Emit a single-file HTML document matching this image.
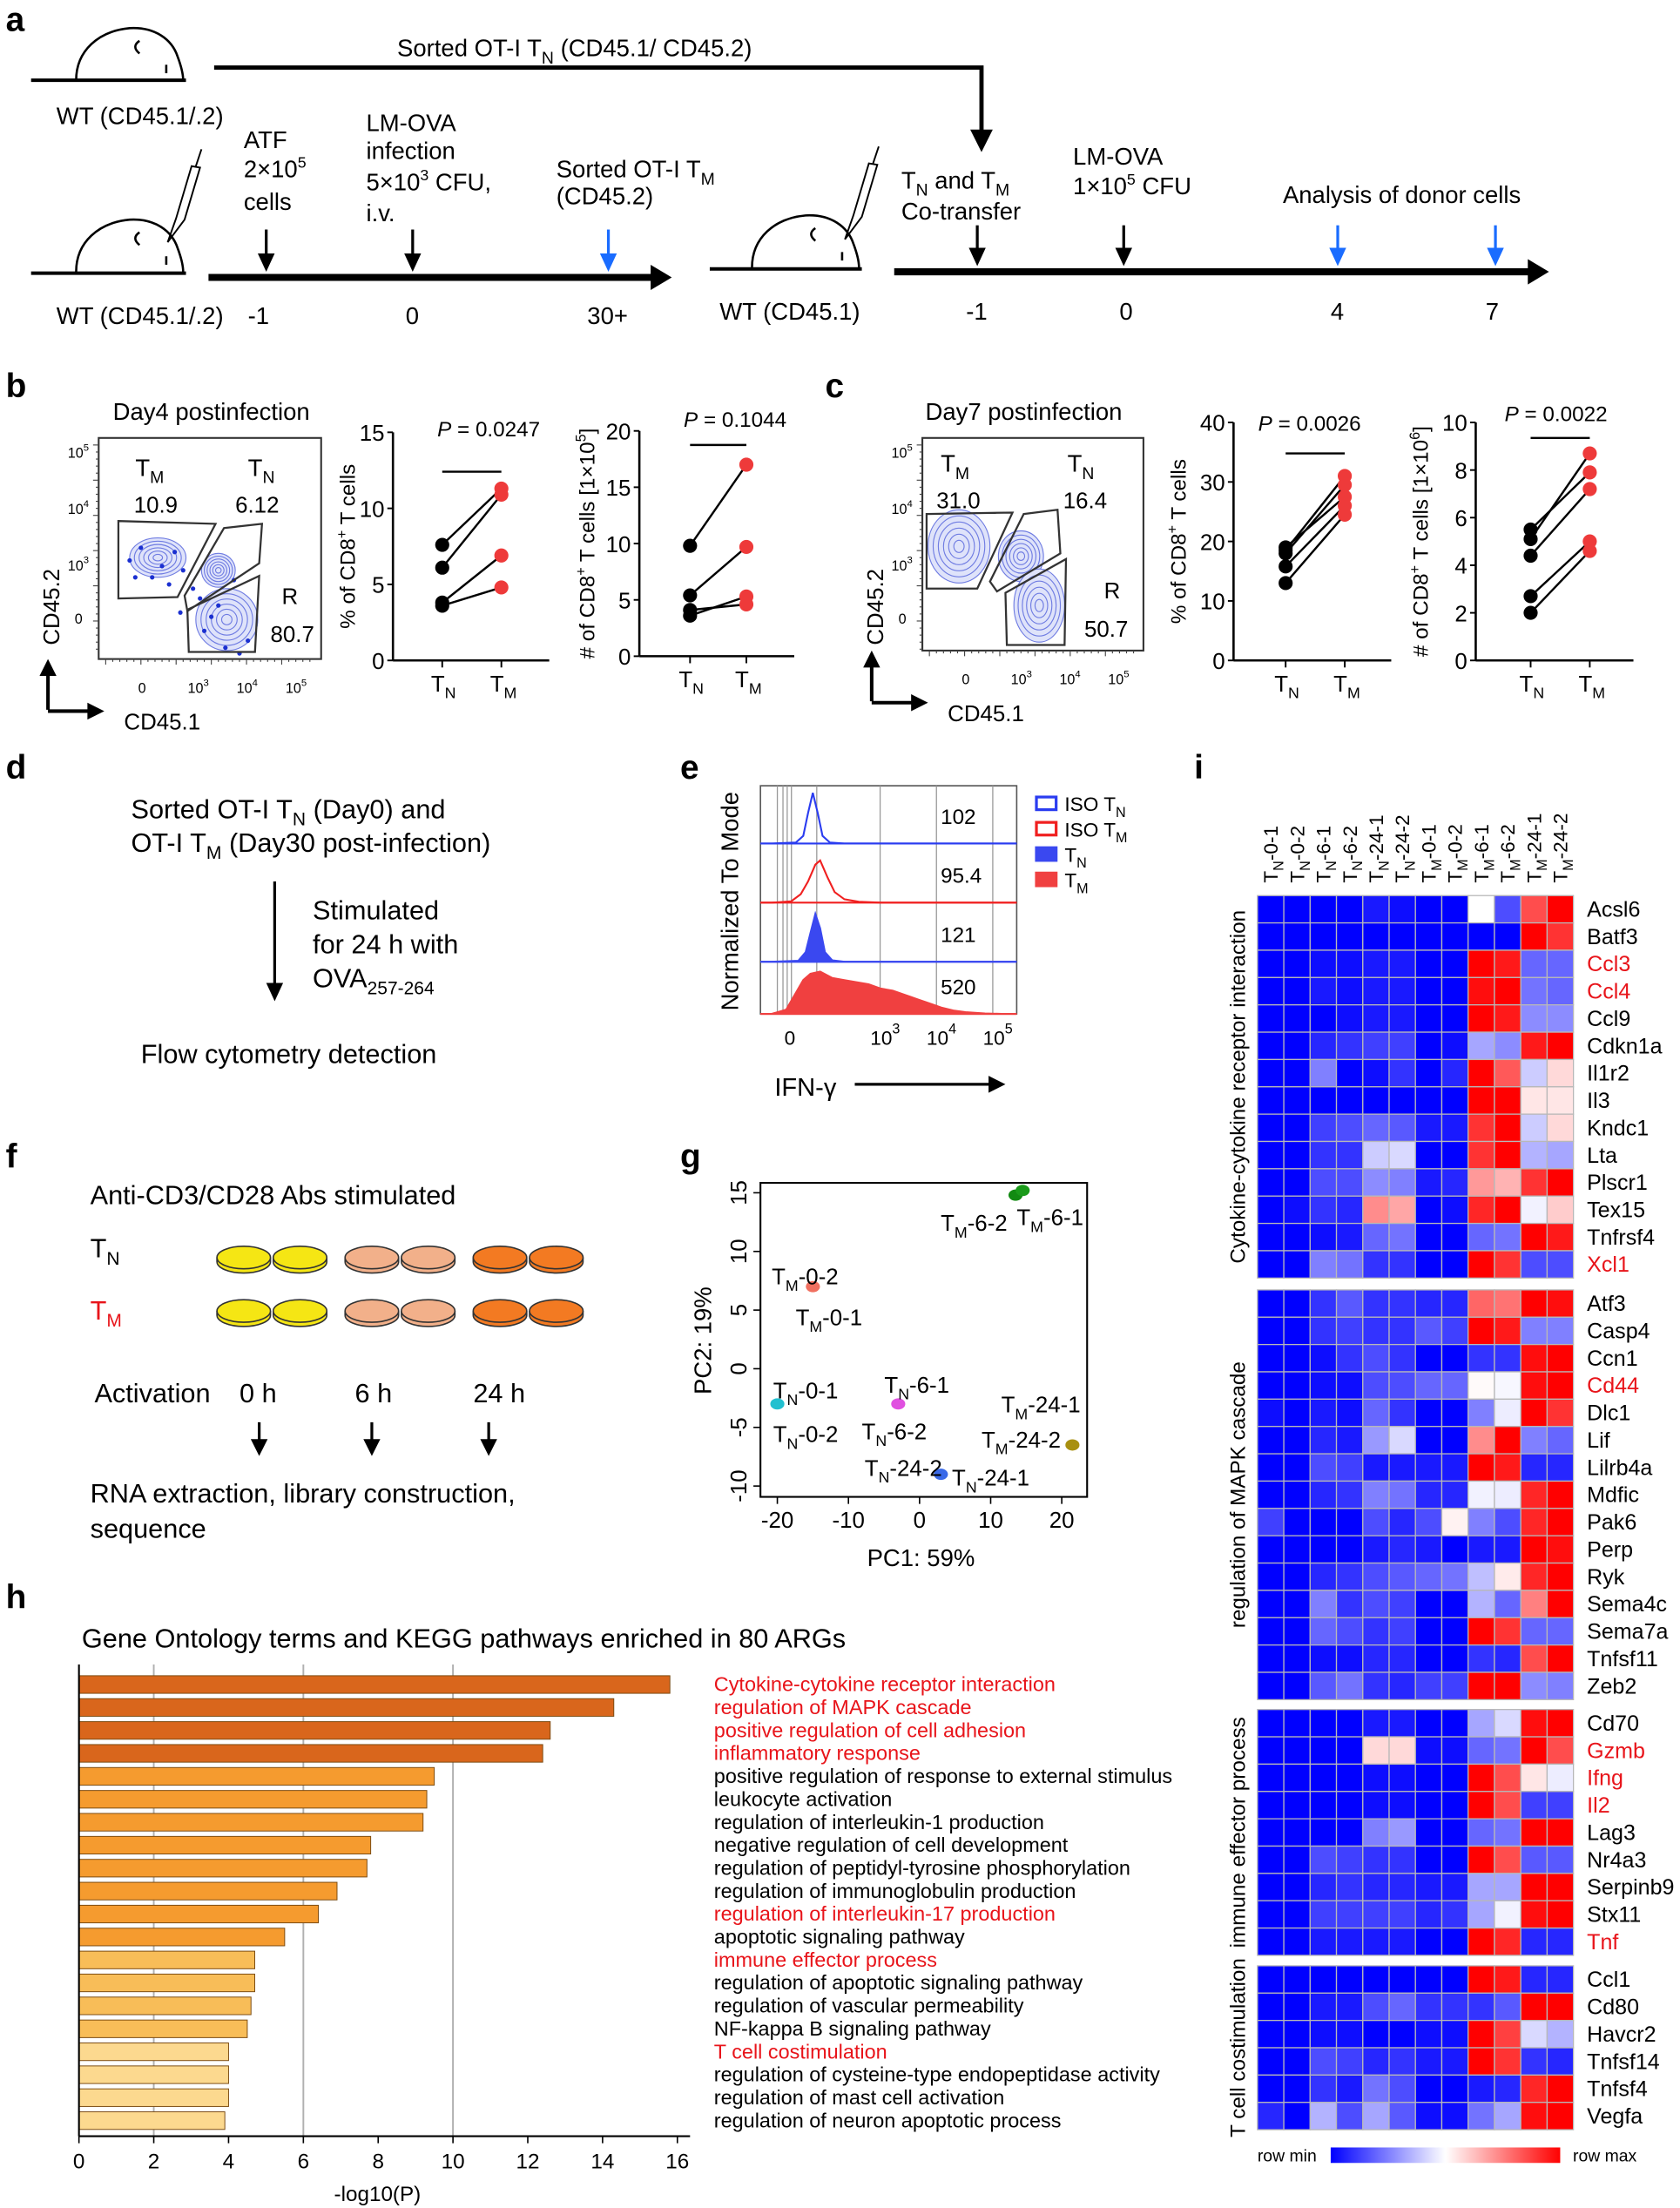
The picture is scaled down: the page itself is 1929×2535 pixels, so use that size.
<!DOCTYPE html>
<html><head><meta charset="utf-8">
<style>
html,body{margin:0;padding:0;background:#fff;}
svg{display:block;font-family:"Liberation Sans",Arial,sans-serif;}
</style></head>
<body>
<svg id="fig" xmlns="http://www.w3.org/2000/svg" width="1929" height="2535" viewBox="0 0 1193 1568">
<defs></defs>

<!-- PANEL A -->
<g font-size="17">
<text x="4" y="22" font-size="24" font-weight="bold">a</text>
<g fill="none" stroke="#000" stroke-width="1.6">
<path d="M54,57 C54,36 70,22 92,20 C110,19 122,28 126,40 C129,48 130,53 130,57"/><line x1="22" y1="57" x2="132" y2="57" stroke-width="2.5"/>
<path d="M99,29 q-6,4 0,9"/><path d="M118,46 v6"/></g>
<text x="40" y="88">WT (CD45.1/.2)</text>
<path d="M152,48 H697 V100" fill="none" stroke="#000" stroke-width="3"/>
<path d="M689,92 L705,92 L697,108 z" fill="#000"/>
<text x="282" y="40">Sorted OT-I T<tspan font-size="12" dy="5">N</tspan><tspan dy="-5"> (CD45.1/ CD45.2)</tspan></text>

<g fill="none" stroke="#000" stroke-width="1.6">
<path d="M54,193 C54,172 70,158 92,156 C110,155 122,164 126,176 C129,184 130,189 130,193"/><line x1="22" y1="194" x2="132" y2="194" stroke-width="2.5"/>
<path d="M99,165 q-6,4 0,9"/><path d="M118,182 v6"/>
<path d="M119,172 L125,155 L136,118 L142,119 L131,156 z" stroke-width="1.2"/><line x1="139" y1="118" x2="143" y2="106" stroke-width="1.2"/></g>
<text x="40" y="230">WT (CD45.1/.2)</text>
<line x1="148" y1="197" x2="465" y2="197" stroke="#000" stroke-width="5"/>
<path d="M462,188 L477,197 L462,206 z" fill="#000"/>
<line x1="189" y1="163" x2="189" y2="182" stroke="#000" stroke-width="2"/><path d="M183,180 L195,180 L189,193 z" fill="#000"/>
<line x1="293" y1="163" x2="293" y2="182" stroke="#000" stroke-width="2"/><path d="M287,180 L299,180 L293,193 z" fill="#000"/>
<line x1="432" y1="163" x2="432" y2="182" stroke="#1a6cff" stroke-width="2"/><path d="M426,180 L438,180 L432,193 z" fill="#1a6cff"/>
<text x="176" y="230">-1</text>
<text x="288" y="230">0</text><text x="417" y="230">30+</text>
<text x="173" y="105">ATF</text>
<text x="173" y="126">2×10<tspan font-size="11" dy="-7">5</tspan></text>
<text x="173" y="149">cells</text>
<text x="260" y="93">LM-OVA</text><text x="260" y="113">infection</text>
<text x="260" y="135">5×10<tspan font-size="11" dy="-7">3</tspan><tspan dy="7"> CFU,</tspan></text>
<text x="260" y="157">i.v.</text>
<text x="395" y="126">Sorted OT-I T<tspan font-size="12" dy="5">M</tspan></text>
<text x="395" y="145">(CD45.2)</text>

<g fill="none" stroke="#000" stroke-width="1.6">
<path d="M534,190 C534,169 550,155 572,153 C590,152 602,161 606,173 C609,181 610,186 610,190"/><line x1="504" y1="191" x2="612" y2="191" stroke-width="2.5"/>
<path d="M579,162 q-6,4 0,9"/><path d="M598,179 v6"/>
<path d="M600,170 L606,153 L617,116 L623,117 L612,154 z" stroke-width="1.2"/><line x1="620" y1="116" x2="624" y2="104" stroke-width="1.2"/></g>
<text x="511" y="227">WT (CD45.1)</text>
<line x1="635" y1="193" x2="1088" y2="193" stroke="#000" stroke-width="5"/>
<path d="M1085,184 L1100,193 L1085,202 z" fill="#000"/>
<line x1="694" y1="160" x2="694" y2="178" stroke="#000" stroke-width="2"/><path d="M688,176 L700,176 L694,189 z" fill="#000"/>
<line x1="798" y1="160" x2="798" y2="178" stroke="#000" stroke-width="2"/><path d="M792,176 L804,176 L798,189 z" fill="#000"/>
<line x1="950" y1="160" x2="950" y2="178" stroke="#1a6cff" stroke-width="2"/><path d="M944,176 L956,176 L950,189 z" fill="#1a6cff"/>
<line x1="1062" y1="160" x2="1062" y2="178" stroke="#1a6cff" stroke-width="2"/><path d="M1056,176 L1068,176 L1062,189 z" fill="#1a6cff"/>
<text x="686" y="227">-1</text><text x="795" y="227">0</text><text x="945" y="227">4</text><text x="1055" y="227">7</text>
<text x="640" y="134">T<tspan font-size="12" dy="5">N</tspan><tspan dy="-5"> and T</tspan><tspan font-size="12" dy="5">M</tspan></text>
<text x="640" y="156">Co-transfer</text>
<text x="762" y="117">LM-OVA</text>
<text x="762" y="138">1×10<tspan font-size="11" dy="-7">5</tspan><tspan dy="7"> CFU</tspan></text>
<text x="911" y="144">Analysis of donor cells</text>
</g>

<g font-size="17">
<text x="4" y="282" font-size="24" font-weight="bold">b</text>
<text x="150" y="298" text-anchor="middle">Day4 postinfection</text>
<text x="586" y="282" font-size="24" font-weight="bold">c</text>
<text x="727" y="298" text-anchor="middle">Day7 postinfection</text>

<text x="4" y="553" font-size="24" font-weight="bold">d</text>
<g font-size="19">
<text x="93" y="581">Sorted OT-I T<tspan font-size="13" dy="5">N</tspan><tspan dy="-5"> (Day0) and</tspan></text>
<text x="93" y="605">OT-I T<tspan font-size="13" dy="5">M</tspan><tspan dy="-5"> (Day30 post-infection)</tspan></text>
<line x1="195" y1="626" x2="195" y2="700" stroke="#000" stroke-width="2"/><path d="M189,698 L201,698 L195,711 z" fill="#000"/>
<text x="222" y="653">Stimulated</text>
<text x="222" y="677">for 24 h with</text>
<text x="222" y="701">OVA<tspan font-size="13" dy="5">257-264</tspan></text>
<text x="100" y="755">Flow cytometry detection</text>
</g>

<text x="483" y="553" font-size="24" font-weight="bold">e</text>
<text x="4" y="829" font-size="24" font-weight="bold">f</text>
<g font-size="19">
<text x="64" y="855">Anti-CD3/CD28 Abs stimulated</text>
<text x="64" y="893">T<tspan font-size="13" dy="5">N</tspan></text>
<text x="64" y="937" fill="#e8141a">T<tspan font-size="13" dy="5">M</tspan></text>
<text x="67" y="996">Activation</text><text x="170" y="996">0 h</text><text x="252" y="996">6 h</text><text x="336" y="996">24 h</text>
<line x1="184" y1="1010" x2="184" y2="1024" stroke="#000" stroke-width="2"/><path d="M178,1022 L190,1022 L184,1034 z" fill="#000"/>
<line x1="264" y1="1010" x2="264" y2="1024" stroke="#000" stroke-width="2"/><path d="M258,1022 L270,1022 L264,1034 z" fill="#000"/>
<line x1="347" y1="1010" x2="347" y2="1024" stroke="#000" stroke-width="2"/><path d="M341,1022 L353,1022 L347,1034 z" fill="#000"/>
<text x="64" y="1067">RNA extraction, library construction,</text>
<text x="64" y="1092">sequence</text>
</g>
<g id="dishes"></g>

<text x="483" y="829" font-size="24" font-weight="bold">g</text>
<text x="4" y="1142" font-size="24" font-weight="bold">h</text>
<text x="58" y="1170" font-size="19">Gene Ontology terms and KEGG pathways enriched in 80 ARGs</text>
<text x="848" y="553" font-size="24" font-weight="bold">i</text>
</g>

<g id="gb"></g>
<g id="gc"></g>
<g id="ge"></g>
<g id="gg"></g>
<g id="gh"></g>
<g id="gi"></g>
</svg>

<script>
// panel b
const bPctTN = [7.6, 6.1, 3.8, 3.6];
const bPctTM = [11.3, 10.9, 6.9, 4.8];
const bNumTN = [9.8, 5.4, 4.1, 3.6];
const bNumTM = [17.0, 9.7, 4.6, 5.3];
const bPctTicks = [0, 5, 10, 15];
const bNumTicks = [0, 5, 10, 15, 20];
// panel c
const cPctTN = [19.0, 18.5, 18.0, 15.8, 13.0];
const cPctTM = [27.5, 31.0, 29.5, 26.0, 24.5];
const cNumTN = [5.5, 5.1, 4.4, 2.7, 2.0];
const cNumTM = [7.9, 8.7, 7.2, 5.0, 4.6];
const cPctTicks = [0, 10, 20, 30, 40];
const cNumTicks = [0, 2, 4, 6, 8, 10];
// panel e
const histChannels1 = [0, 10, 13, 15, 17, 19, 21, 24, 30, 100];
const histIsoTN = [0, 0.02, 0.15, 0.6, 1, 0.6, 0.15, 0.02, 0, 0];
const histChannels2 = [0, 8, 12, 15, 18, 20, 23, 26, 30, 36, 45, 100];
const histIsoTM = [0, 0.03, 0.2, 0.5, 0.9, 1, 0.6, 0.25, 0.08, 0.02, 0, 0];
const histChannels3 = [0, 11, 14, 16, 18, 20, 22, 25, 30, 100];
const histTN = [0, 0.02, 0.2, 0.6, 1, 0.7, 0.2, 0.03, 0, 0];
const histChannels4 = [0, 6, 10, 13, 16, 20, 25, 30, 35, 40, 45, 50, 55, 60, 65, 70, 75, 80, 88, 95, 100];
const histTM = [0, 0.1, 0.5, 0.8, 0.95, 1, 0.85, 0.8, 0.75, 0.7, 0.6, 0.55, 0.45, 0.35, 0.25, 0.15, 0.08, 0.04, 0.01, 0, 0];
const histMFI = ["102", "95.4", "121", "520"];
// panel g
const pcaPC1 = [13.5, 14.5, -15, -20, -3, 21.5, 3];
const pcaPC2 = [14.8, 15.2, 7, -3, -3, -6.5, -9];
const pcaColors = ["#128a12", "#1a9a1a", "#f07060", "#22c0d0", "#e050e0", "#a89010", "#3a6ae8"];
const pcaXTicks = [-20, -10, 0, 10, 20];
const pcaYTicks = [15, 10, 5, 0, -5, -10];
// panel h
const goTerms = ["Cytokine-cytokine receptor interaction","regulation of MAPK cascade","positive regulation of cell adhesion","inflammatory response","positive regulation of response to external stimulus","leukocyte activation","regulation of interleukin-1 production","negative regulation of cell development","regulation of peptidyl-tyrosine phosphorylation","regulation of immunoglobulin production","regulation of interleukin-17 production","apoptotic signaling pathway","immune effector process","regulation of apoptotic signaling pathway","regulation of vascular permeability","NF-kappa B signaling pathway","T cell costimulation","regulation of cysteine-type endopeptidase activity","regulation of mast cell activation","regulation of neuron apoptotic process"];
const goValues = [15.8, 14.3, 12.6, 12.4, 9.5, 9.3, 9.2, 7.8, 7.7, 6.9, 6.4, 5.5, 4.7, 4.7, 4.6, 4.5, 4.0, 4.0, 4.0, 3.9];
const goRed = [1,1,1,1,0,0,0,0,0,0,1,0,1,0,0,0,1,0,0,0];
const goTicks = [0, 2, 4, 6, 8, 10, 12, 14, 16];
// panel i
const hmCols = [["N","0-1"],["N","0-2"],["N","6-1"],["N","6-2"],["N","24-1"],["N","24-2"],["M","0-1"],["M","0-2"],["M","6-1"],["M","6-2"],["M","24-1"],["M","24-2"]];
const hmGroupNames = ["Cytokine-cytokine receptor interaction","regulation of MAPK cascade","immune effector process","T cell costimulation"];
const hmGenes1 = ["Acsl6","Batf3","Ccl3","Ccl4","Ccl9","Cdkn1a","Il1r2","Il3","Kndc1","Lta","Plscr1","Tex15","Tnfrsf4","Xcl1"];
const hmVals1 = [
[-1,-1,-1,-1,-.9,-.95,-1,-1,0,-.7,.7,1],
[-1,-1,-1,-1,-1,-1,-1,-1,-1,-1,1,.8],
[-1,-1,-.95,-.95,-.9,-.9,-1,-1,1,.9,-.6,-.6],
[-1,-1,-.9,-.95,-.9,-.9,-1,-1,.95,1,-.55,-.6],
[-1,-1,-1,-.95,-.9,-.9,-1,-1,1,.9,-.45,-.45],
[-1,-1,-.85,-.8,-.75,-.75,-1,-.95,-.35,-.45,.9,1],
[-1,-1,-.5,-1,-.95,-.8,-1,-.85,1,.65,-.2,.15],
[-1,-1,-1,-1,-1,-1,-1,-1,1,1,.1,.1],
[-1,-1,-.75,-.7,-.6,-.65,-.9,-.9,.8,1,-.2,.15],
[-1,-1,-.8,-.8,-.2,-.15,-1,-1,.8,1,-.3,-.35],
[-1,-1,-.7,-.7,-.45,-.5,-.9,-.85,.4,.3,.8,1],
[-1,-.95,-.8,-.85,.45,.35,-1,-.95,.85,1,-.05,.2],
[-1,-1,-.95,-.9,-.6,-.55,-1,-1,-.6,-.55,1,.9],
[-1,-1,-.5,-.55,-.8,-.8,-1,-1,1,.8,-.7,-.7]];
const hmRed1 = ["Ccl3","Ccl4","Xcl1"];
const hmGenes2 = ["Atf3","Casp4","Ccn1","Cd44","Dlc1","Lif","Lilrb4a","Mdfic","Pak6","Perp","Ryk","Sema4c","Sema7a","Tnfsf11","Zeb2"];
const hmVals2 = [
[-1,-1,-.8,-.65,-.8,-.8,-.85,-.85,.6,.55,1,.95],
[-1,-1,-.8,-.75,-.8,-.8,-.65,-.75,1,.9,-.5,-.5],
[-1,-1,-.95,-.8,-.7,-.8,-1,-1,-.8,-.8,.95,1],
[-1,-1,-.95,-.95,-.7,-.7,-.6,-.6,.02,-.03,.95,1],
[-.95,-1,-.9,-.95,-.6,-.8,-1,-1,-.5,-.07,1,.8],
[-1,-1,-.85,-.9,-.4,-.15,-1,-1,.45,1,-.5,-.6],
[-1,-1,-.7,-.75,-.9,-.9,-.9,-.9,1,.9,-.85,-.85],
[-1,-1,-.85,-.8,-.5,-.55,-.85,-.85,-.05,-.07,.85,1],
[-.75,-1,-1,-1,-.7,-.85,-.7,.05,-.5,-.7,.85,1],
[-1,-1,-1,-1,-.9,-.85,-.9,-1,-.9,-.9,1,.95],
[-1,-1,-.85,-.8,-.7,-.65,-.6,-.55,-.25,.08,.85,1],
[-1,-1,-.5,-.8,-.7,-.75,-1,-1,-.3,-.6,.5,1],
[-1,-1,-.6,-.7,-.8,-.75,-1,-1,1,.8,-.6,-.6],
[-1,-1,-.95,-.95,-.85,-.85,-1,-1,-.8,-.85,.7,1],
[-1,-1,-.65,-.55,-.8,-.85,-.75,-.75,1,1,-.45,-.5]];
const hmRed2 = ["Cd44"];
const hmGenes3 = ["Cd70","Gzmb","Ifng","Il2","Lag3","Nr4a3","Serpinb9","Stx11","Tnf"];
const hmVals3 = [
[-1,-1,-1,-1,-.9,-.9,-1,-1,-.35,-.15,.95,1],
[-1,-1,-1,-1,.15,.15,-.95,-.95,-.6,-.55,1,.7],
[-1,-1,-1,-1,-.95,-.95,-1,-1,1,.7,.1,-.07],
[-1,-1,-1,-1,-.95,-.95,-1,-1,1,.7,-.75,-.75],
[-1,-1,-1,-1,-.5,-.4,-1,-1,-.6,-.55,1,1],
[-1,-1,-.7,-.75,-.8,-.8,-1,-1,1,.7,-.65,-.65],
[-1,-1,-.85,-.8,-.85,-.85,-.9,-.9,-.35,-.35,1,1],
[-1,-1,-.75,-.75,-.75,-.75,-.85,-.8,-.35,-.05,.95,1],
[-1,-1,-.9,-.9,-.9,-.9,-1,-1,1,.85,-.85,-.85]];
const hmRed3 = ["Gzmb","Ifng","Il2","Tnf"];
const hmGenes4 = ["Ccl1","Cd80","Havcr2","Tnfsf14","Tnfsf4","Vegfa"];
const hmVals4 = [
[-1,-1,-1,-1,-1,-1,-1,-1,1,.9,-.85,-.85],
[-1,-1,-.9,-.9,-.7,-.6,-.8,-.8,-.8,-.65,1,1],
[-1,-1,-.95,-.95,-1,-1,-.95,-.95,1,.75,-.15,-.3],
[-1,-1,-.7,-.75,-.85,-.8,-.9,-.9,1,.8,-.8,-.85],
[-1,-1,-.8,-.9,-.55,-.7,-1,-1,-.9,-.85,.85,1],
[-.85,-1,-.3,-.7,-.35,-.65,-.95,-.95,-.55,-.35,.95,1]];
const hmRed4 = [];

const NS = "http://www.w3.org/2000/svg";
function el(tag, attrs, parent) {
  const e = document.createElementNS(NS, tag);
  for (const k in attrs) e.setAttribute(k, attrs[k]);
  parent.appendChild(e);
  return e;
}
function subText(parent, x, y, base, sub, size, extra) {
  const t = el("text", Object.assign({x: x, y: y, "font-size": size}, extra || {}), parent);
  t.appendChild(document.createTextNode(base));
  const s = el("tspan", {"font-size": Math.round(size * 0.7), dy: size * 0.3}, t);
  s.textContent = sub;
  return t;
}
function linScale(d0, d1, r0, r1) { return v => r0 + (v - d0) * (r1 - r0) / (d1 - d0); }

function flowPlot(g, box, gates, clusters, labels, dots) {
  const r = el("rect", {x: box[0], y: box[1], width: box[2]-box[0], height: box[3]-box[1], fill: "none", stroke: "#333", "stroke-width": 1.3}, g);
  
  
  clusters.forEach(c => {
    for (let i = 6; i >= 1; i--) {
      el("ellipse", {cx: c[0], cy: c[1], rx: c[2]*i/6, ry: c[3]*i/6, fill: i===6?"#dfe3fa":"none", stroke: "#6f7ce2", "stroke-width": 0.7}, g);
    }
  });
  (dots || []).forEach(d => el("circle", {cx: d[0], cy: d[1], r: 1.6, fill: "#1a2fd0"}, g));
  gates.forEach(p => {
    const pg = el("polygon", {points: p.map(q => q.join(",")).join(" "), fill: "none", stroke: "#333", "stroke-width": 1.4}, g);
    
    
  });
  labels.forEach(l => {
    if (l[3]) subText(g, l[0], l[1], l[2], l[3], 17);
    else { const t = el("text", {x: l[0], y: l[1], "font-size": 16}, g); t.textContent = l[2]; }
  });
  const ty = [[box[1]+14, "5"], [box[1]+54, "4"], [box[1]+94, "3"]];
  ty.forEach(a => { const t = el("text", {x: box[0]-22, y: a[0], "font-size": 10}, g); t.textContent = "10"; const s = el("tspan", {dy: -5, "font-size": 7}, t); s.textContent = a[1]; });
  const t0 = el("text", {x: box[0]-17, y: box[1]+132, "font-size": 10}, g); t0.textContent = "0";
  const w = box[2]-box[0];
  const t1 = el("text", {x: box[0]+28, y: box[3]+24, "font-size": 10}, g); t1.textContent = "0";
  [[0.4,"3"],[0.62,"4"],[0.84,"5"]].forEach(a => { const t = el("text", {x: box[0]+w*a[0], y: box[3]+24, "font-size": 10}, g); t.textContent = "10"; const s = el("tspan", {dy: -5, "font-size": 7}, t); s.textContent = a[1]; });
  for (let i = 0; i < 30; i++) { el("line", {x1: box[0]+5+i*5, y1: box[3], x2: box[0]+5+i*5, y2: box[3]+(i%5?2:4), stroke: "#444", "stroke-width": 0.7}, g); el("line", {x1: box[0], y1: box[1]+5+i*5, x2: box[0]-(i%5?2:4), y2: box[1]+5+i*5, stroke: "#444", "stroke-width": 0.7}, g); }
  const ya = el("text", {x: 0, y: 0, "font-size": 16, transform: `translate(${box[0]-28},${box[1]+120}) rotate(-90)`, "text-anchor": "middle"}, g); ya.textContent = "CD45.2";
  const xa = el("text", {x: box[0]+18, y: box[3]+50, "font-size": 16}, g); xa.textContent = "CD45.1";
  el("path", {d: `M${box[0]-36},${box[3]+36} V${box[3]+6} M${box[0]-36},${box[3]+37} H${box[0]-4}`, stroke: "#000", "stroke-width": 2.5, fill: "none"}, g);
  el("path", {d: `M${box[0]-42},${box[3]+12} L${box[0]-36},${box[3]} L${box[0]-30},${box[3]+12} z`, fill: "#000"}, g);
  el("path", {d: `M${box[0]-8},${box[3]+31} L${box[0]+4},${box[3]+37} L${box[0]-8},${box[3]+43} z`, fill: "#000"}, g);
}
const gb = document.getElementById("gb");
const bDots = [[100,389],[92,398],[108,410],[124,392],[130,405],[120,415],[142,425],[150,438],[145,448],[160,460],[170,464],[176,455],[96,410],[115,402],[137,418],[155,430],[128,435],[166,412]];
flowPlot(gb, [70,311,228,468],
  [[[84,370],[153,372],[126,424],[84,425]], [[159,375],[186,372],[184,400],[133,434],[131,423]], [[133,433],[184,409],[181,463],[134,463]]],
  [[112,396,20,14],[155,405,12,12],[161,440,22,22]],
  [[96,338,"T","M"],[176,338,"T","N"],[95,364,"10.9"],[167,364,"6.12"],[200,429,"R"],[192,456,"80.7"]], bDots);
const gc = document.getElementById("gc");
flowPlot(gc, [655,311,812,462],
  [[[658,365],[719,364],[694,418],[658,418]], [[727,365],[751,362],[753,393],[708,420],[703,413]], [[714,421],[757,397],[756,458],[715,458]]],
  [[681,388,22,26],[725,395,16,18],[738,430,18,26]],
  [[668,335,"T","M"],[758,335,"T","N"],[665,361,"31.0"],[755,361,"16.4"],[784,425,"R"],[770,452,"50.7"]], []);

function pairedPlot(g, ax, ticks, tn, tm, pText, title, titleSup, titleRest) {
  const y = linScale(0, ax.max, ax.yBot, ax.yTop);
  el("line", {x1: ax.x0, y1: ax.yBot, x2: ax.x0, y2: y(ax.max), stroke: "#000", "stroke-width": 1.6}, g);
  el("line", {x1: ax.x0, y1: ax.yBot, x2: ax.x1, y2: ax.yBot, stroke: "#000", "stroke-width": 1.6}, g);
  ticks.forEach(v => {
    el("line", {x1: ax.x0-4, y1: y(v), x2: ax.x0, y2: y(v), stroke: "#000", "stroke-width": 1.2}, g);
    const t = el("text", {x: ax.x0-6, y: y(v)+6, "font-size": 16, "text-anchor": "end"}, g);
    
    
    t.textContent = v;
  });
  [ax.xn, ax.xm].forEach(x => el("line", {x1: x, y1: ax.yBot, x2: x, y2: ax.yBot+5, stroke: "#000", "stroke-width": 1.2}, g));
  subText(g, ax.xn-8, ax.yBot+22, "T", "N", 16);
  subText(g, ax.xm-8, ax.yBot+22, "T", "M", 16);
  tn.forEach((v, i) => {
    const ln = el("line", {x1: ax.xn, y1: y(v), x2: ax.xm, y2: y(tm[i]), stroke: "#000", "stroke-width": 1.5}, g);
    
    
  });
  tn.forEach(v => {
    const c = el("circle", {cx: ax.xn, cy: y(v), r: 5, fill: "#000"}, g);
    
    
  });
  tm.forEach(v => {
    const c = el("circle", {cx: ax.xm, cy: y(v), r: 5, fill: "#ee3a3a"}, g);
    
    
  });
  el("line", {x1: ax.xn, y1: ax.sigY, x2: ax.xm, y2: ax.sigY, stroke: "#000", "stroke-width": 1.5}, g);
  const p = el("text", {x: ax.pX, y: ax.pY, "font-size": 15, "text-anchor": "middle"}, g);
  
  
  const pi = el("tspan", {"font-style": "italic"}, p); pi.textContent = "P";
  const pr = el("tspan", {}, p); pr.textContent = " = " + pText;
  const tt = el("text", {x: 0, y: 0, "font-size": 15, "text-anchor": "middle", transform: `translate(${ax.titleX},${(ax.yTop+ax.yBot)/2}) rotate(-90)`}, g);
  
  
  const a1 = el("tspan", {}, tt); a1.textContent = title;
  const a2 = el("tspan", {dy: -6, "font-size": 10}, tt); a2.textContent = "+";
  const a3 = el("tspan", {dy: 6}, tt); a3.textContent = " T cells" + titleRest;
  if (titleSup) { const a4 = el("tspan", {dy: -6, "font-size": 10}, tt); a4.textContent = titleSup; const a5 = el("tspan", {dy: 6}, tt); a5.textContent = "]"; }
}
pairedPlot(gb, {x0: 279, x1: 390, yTop: 307, yBot: 469, max: 15, xn: 314, xm: 356, sigY: 335, pX: 347, pY: 310, titleX: 252}, bPctTicks, bPctTN, bPctTM, "0.0247", "% of CD8", "", "");
pairedPlot(gb, {x0: 454, x1: 564, yTop: 306, yBot: 466, max: 20, xn: 490, xm: 530, sigY: 316, pX: 522, pY: 303, titleX: 422}, bNumTicks, bNumTN, bNumTM, "0.1044", "# of CD8", "5", " [1×10");
pairedPlot(gc, {x0: 876, x1: 988, yTop: 300, yBot: 469, max: 40, xn: 913, xm: 955, sigY: 322, pX: 930, pY: 306, titleX: 842}, cPctTicks, cPctTN, cPctTM, "0.0026", "% of CD8", "", "");
pairedPlot(gc, {x0: 1048, x1: 1160, yTop: 300, yBot: 469, max: 10, xn: 1087, xm: 1129, sigY: 311, pX: 1105, pY: 299, titleX: 1014}, cNumTicks, cNumTN, cNumTM, "0.0022", "# of CD8", "6", " [1×10");

const ge = document.getElementById("ge");
el("rect", {x: 540, y: 558, width: 182, height: 162, fill: "none", stroke: "#555", "stroke-width": 1}, ge);
[552, 556, 559, 562, 580, 625, 665, 705].forEach(x => el("line", {x1: x, y1: 558, x2: x, y2: 720, stroke: "#999", "stroke-width": 0.8}, ge));
const hx = linScale(0, 100, 548, 720);
const lanes = [
  {ch: histChannels1, v: histIsoTN, base: 599, h: 36, col: "#2a3cf0", fill: false},
  {ch: histChannels2, v: histIsoTM, base: 641, h: 30, col: "#f02020", fill: false},
  {ch: histChannels3, v: histTN, base: 683, h: 34, col: "#3a48f0", fill: true},
  {ch: histChannels4, v: histTM, base: 720, h: 30, col: "#f04040", fill: true}];
lanes.forEach((L, li) => {
  const pts = L.ch.map((c, i) => `${hx(c).toFixed(1)},${(L.base - L.v[i]*L.h).toFixed(1)}`);
  const d = "M540," + L.base + " L" + pts.join(" L") + " L722," + L.base;
  const p = el("path", {d: d + (L.fill ? " z" : ""), fill: L.fill ? L.col : "none", stroke: L.col, "stroke-width": 1.3}, ge);
  
  
  el("line", {x1: 540, y1: L.base, x2: 722, y2: L.base, stroke: L.col, "stroke-width": 1.3}, ge);
  const t = el("text", {x: 668, y: L.base - 14, "font-size": 15}, ge);
  
  
  t.textContent = histMFI[li];
});
const e0 = el("text", {x: 557, y: 742, "font-size": 14}, ge); e0.textContent = "0";
[[618,"3"],[658,"4"],[698,"5"]].forEach(a => { const t = el("text", {x: a[0], y: 742, "font-size": 14}, ge); t.textContent = "10"; const s = el("tspan", {dy: -8, "font-size": 10}, t); s.textContent = a[1]; });
const ey = el("text", {x: 0, y: 0, "font-size": 17, "text-anchor": "middle", transform: "translate(524,640) rotate(-90)"}, ge);


ey.textContent = "Normalized To Mode";
const ex = el("text", {x: 550, y: 778, "font-size": 18}, ge);


ex.textContent = "IFN-γ";
el("line", {x1: 607, y1: 770, x2: 704, y2: 770, stroke: "#000", "stroke-width": 2}, ge);
el("path", {d: "M702,764 L714,770 L702,776 z", fill: "#000"}, ge);
const leg = [["ISO T","N","#2a3cf0",false],["ISO T","M","#f02020",false],["T","N","#3a48f0",true],["T","M","#f04040",true]];
leg.forEach((l, i) => {
  const yy = 566 + i * 18;
  const r = el("rect", {x: 736, y: yy, width: 14, height: 9, fill: l[3] ? l[2] : "#fff", stroke: l[2], "stroke-width": 2}, ge);
  
  
  subText(ge, 756, yy + 10, l[0], l[1], 14);
});

const dishes = document.getElementById("dishes");
const dishX = [173, 213, 264, 304, 355, 395];
const dishCols = ["#f5e614", "#f5e614", "#f2b08a", "#f2b08a", "#f37a22", "#f37a22"];
[893, 931].forEach(yy => dishX.forEach((x, i) => {
  el("path", {d: `M${x-19},${yy} v3 a19,8 0 0 0 38,0 v-3`, fill: dishCols[i], stroke: "#333", "stroke-width": 1}, dishes);
  const e1 = el("ellipse", {cx: x, cy: yy, rx: 19, ry: 8, fill: dishCols[i], stroke: "#333", "stroke-width": 1}, dishes);
  
  
}));

const gg = document.getElementById("gg");
const px = linScale(0, 10, 653, 703.5);
const py = linScale(0, 10, 972, 888.7);
el("rect", {x: 540, y: 840, width: 232, height: 223, fill: "none", stroke: "#000", "stroke-width": 1.3}, gg);
pcaXTicks.forEach(v => {
  el("line", {x1: px(v), y1: 1063, x2: px(v), y2: 1068, stroke: "#000"}, gg);
  const t = el("text", {x: px(v), y: 1085, "font-size": 16, "text-anchor": "middle"}, gg);
  
  
  t.textContent = v;
});
pcaYTicks.forEach(v => {
  el("line", {x1: 535, y1: py(v), x2: 540, y2: py(v), stroke: "#000"}, gg);
  const t = el("text", {x: 0, y: 0, "font-size": 16, "text-anchor": "middle", transform: `translate(530,${py(v)}) rotate(-90)`}, gg);
  
  
  t.textContent = v;
});
const gxT = el("text", {x: 654, y: 1112, "font-size": 17, "text-anchor": "middle"}, gg); gxT.textContent = "PC1: 59%";
const gyT = el("text", {x: 0, y: 0, "font-size": 17, "text-anchor": "middle", transform: "translate(505,952) rotate(-90)"}, gg); gyT.textContent = "PC2: 19%";
pcaPC1.forEach((v, i) => {
  const c = el("ellipse", {cx: px(v), cy: py(pcaPC2[i]), rx: 5, ry: 4, fill: pcaColors[i]}, gg);
  
  
});
[[668,874,"M","-6-2"],[722,870,"M","-6-1"],[548,912,"M","-0-2"],[565,941,"M","-0-1"],[549,993,"N","-0-1"],[549,1024,"N","-0-2"],[628,989,"N","-6-1"],[612,1022,"N","-6-2"],[711,1003,"M","-24-1"],[697,1028,"M","-24-2"],[614,1048,"N","-24-2"],[676,1055,"N","-24-1"]].forEach(a => {
  const t = subText(gg, a[0], a[1], "T", a[2], 16);
  const r = el("tspan", {dy: -4.8}, t); r.textContent = a[3];
});

const gh = document.getElementById("gh");
const hxs = linScale(0, 16, 56, 481);
const barTop = 1190, barStep = 16.3, barH = 12.5;
[2, 6, 10].forEach(v => el("line", {x1: hxs(v), y1: 1182, x2: hxs(v), y2: 1517, stroke: "#b0b0b0", "stroke-width": 1.2}, gh));
const barCol = i => i < 4 ? "#d9661c" : (i < 12 ? "#f59b2f" : (i < 16 ? "#f8bd58" : "#fcd98f"));
goValues.forEach((v, i) => {
  const y = barTop + i * barStep;
  const r = el("rect", {x: hxs(0), y: y, width: hxs(v) - hxs(0), height: barH, fill: barCol(i), stroke: "#7a4a10", "stroke-width": 0.6}, gh);
  
  
  const t = el("text", {x: 507, y: y + 11, "font-size": 14.5, fill: goRed[i] ? "#e8141a" : "#000"}, gh);
  
  
  t.textContent = goTerms[i];
});
el("line", {x1: 56, y1: 1182, x2: 56, y2: 1517, stroke: "#000", "stroke-width": 1.3}, gh);
el("line", {x1: 56, y1: 1517, x2: 490, y2: 1517, stroke: "#000", "stroke-width": 1.3}, gh);
goTicks.forEach(v => {
  el("line", {x1: hxs(v), y1: 1517, x2: hxs(v), y2: 1522, stroke: "#000"}, gh);
  const t = el("text", {x: hxs(v), y: 1540, "font-size": 15, "text-anchor": "middle"}, gh);
  
  
  t.textContent = v;
});
const hxT = el("text", {x: 268, y: 1563, "font-size": 15, "text-anchor": "middle"}, gh); hxT.textContent = "-log10(P)";

const gi = document.getElementById("gi");
const hmX0 = 893, hmCW = 18.7, hmRH = 19.4;
const hmGroupTops = [636, 916, 1214, 1396];
const hmGroups = [[hmGenes1, hmVals1, hmRed1], [hmGenes2, hmVals2, hmRed2], [hmGenes3, hmVals3, hmRed3], [hmGenes4, hmVals4, hmRed4]];
function hmColor(v) {
  if (v < 0) { const c = Math.round(255 * (1 + v)); return `rgb(${c},${c},255)`; }
  const c = Math.round(255 * (1 - v)); return `rgb(255,${c},${c})`;
}
hmCols.forEach((c, j) => {
  const t = el("text", {x: 0, y: 0, "font-size": 14, transform: `translate(${hmX0 + hmCW*j + hmCW/2 + 5},627) rotate(-90)`}, gi);
  
  
  t.appendChild(document.createTextNode("T"));
  const s = el("tspan", {dy: 4, "font-size": 10}, t); s.textContent = c[0];
  const r = el("tspan", {dy: -4}, t); r.textContent = "-" + c[1];
});
hmGroups.forEach((G, gi2) => {
  const top = hmGroupTops[gi2];
  G[1].forEach((row, r) => row.forEach((v, j) => {
    const cell = el("rect", {x: hmX0 + j*hmCW, y: top + r*hmRH, width: hmCW, height: hmRH, fill: hmColor(v), stroke: "#b8b8b8", "stroke-width": 0.8}, gi);
    
    
  }));
  G[0].forEach((gene, r) => {
    const t = el("text", {x: 1127, y: top + r*hmRH + 15, "font-size": 15.5, fill: G[2].indexOf(gene) >= 0 ? "#e8141a" : "#000"}, gi);
    
    
    t.textContent = gene;
  });
  const mid = top + G[0].length * hmRH / 2;
  const gl = el("text", {x: 0, y: 0, "font-size": 15, "text-anchor": "middle", transform: `translate(884,${mid}) rotate(-90)`}, gi);
  
  
  gl.textContent = hmGroupNames[gi2];
});
const grad = el("linearGradient", {id: "hmgrad", x1: 0, x2: 1, y1: 0, y2: 0}, document.querySelector("defs"));
el("stop", {offset: "0", "stop-color": "#0000ff"}, grad);
el("stop", {offset: "0.5", "stop-color": "#ffffff"}, grad);
el("stop", {offset: "1", "stop-color": "#ff0000"}, grad);
const cb = el("rect", {x: 945, y: 1525, width: 163, height: 11, fill: "url(#hmgrad)"}, gi);


const rmin = el("text", {x: 893, y: 1535, "font-size": 12}, gi); rmin.textContent = "row min";
const rmax = el("text", {x: 1117, y: 1535, "font-size": 12}, gi); rmax.textContent = "row max";
</script>
</body></html>
